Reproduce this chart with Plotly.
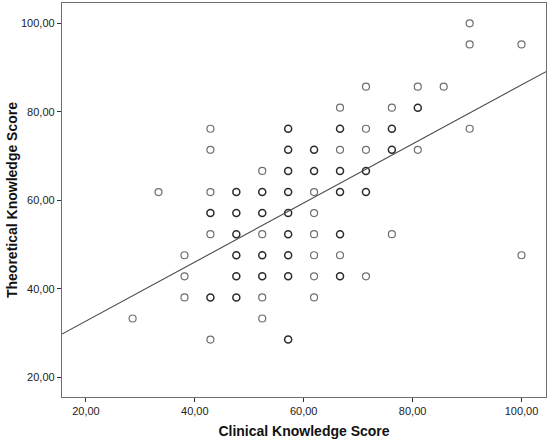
import plotly.graph_objects as go

# Scatter data: clinical score, theoretical score, number of overlapping cases
clinical = [28.57, 33.33,
            38.10, 38.10, 38.10,
            42.86, 42.86, 42.86, 42.86, 42.86, 42.86, 42.86,
            47.62, 47.62, 47.62, 47.62, 47.62, 47.62,
            52.38, 52.38, 52.38, 52.38, 52.38, 52.38, 52.38, 52.38,
            57.14, 57.14, 57.14, 57.14, 57.14, 57.14, 57.14, 57.14, 57.14,
            61.90, 61.90, 61.90, 61.90, 61.90, 61.90, 61.90, 61.90,
            66.67, 66.67, 66.67, 66.67, 66.67, 66.67, 66.67, 66.67,
            71.43, 71.43, 71.43, 71.43, 71.43, 71.43,
            76.19, 76.19, 76.19, 76.19,
            80.95, 80.95, 80.95,
            85.71,
            90.48, 90.48, 90.48,
            100.00, 100.00]
theoretical = [33.33, 61.90,
               47.62, 42.86, 38.10,
               76.19, 71.43, 61.90, 57.14, 52.38, 38.10, 28.57,
               61.90, 57.14, 52.38, 47.62, 42.86, 38.10,
               66.67, 61.90, 57.14, 52.38, 47.62, 42.86, 38.10, 33.33,
               76.19, 71.43, 66.67, 61.90, 57.14, 52.38, 47.62, 42.86, 28.57,
               71.43, 66.67, 61.90, 57.14, 52.38, 47.62, 42.86, 38.10,
               80.95, 76.19, 71.43, 66.67, 61.90, 52.38, 47.62, 42.86,
               85.71, 76.19, 71.43, 66.67, 61.90, 42.86,
               80.95, 76.19, 71.43, 52.38,
               85.71, 80.95, 71.43,
               85.71,
               100.00, 95.24, 76.19,
               95.24, 47.62]
counts = [1, 1,
          1, 1, 1,
          1, 1, 1, 2, 1, 2, 1,
          2, 2, 2, 2, 2, 2,
          1, 2, 2, 1, 2, 2, 1, 1,
          2, 2, 2, 2, 2, 2, 2, 2, 2,
          2, 2, 1, 1, 1, 1, 1, 1,
          1, 2, 1, 2, 2, 2, 1, 2,
          1, 1, 1, 2, 2, 1,
          1, 2, 2, 1,
          1, 2, 1,
          1,
          1, 1, 1,
          1, 1]

# Fit line
fit_intercept = 19.4
fit_slope = 0.667

x_range = [15.6, 104.5]
y_range = [15.6, 104.6]
tick_vals = [20, 40, 60, 80, 100]
tick_text = ["20,00", "40,00", "60,00", "80,00", "100,00"]

single_x = [c for c, n in zip(clinical, counts) if n == 1]
single_y = [t for t, n in zip(theoretical, counts) if n == 1]
multi_x = [c for c, n in zip(clinical, counts) if n > 1]
multi_y = [t for t, n in zip(theoretical, counts) if n > 1]

fig = go.Figure()
fig.add_trace(go.Scatter(
    x=single_x, y=single_y, mode="markers",
    marker=dict(symbol="circle-open", size=7, color="#6e6e6e", line=dict(width=1.2)),
    showlegend=False, hoverinfo="x+y"))
fig.add_trace(go.Scatter(
    x=multi_x, y=multi_y, mode="markers",
    marker=dict(symbol="circle-open", size=7, color="#2a2a2a", line=dict(width=1.5)),
    showlegend=False, hoverinfo="x+y"))
fig.add_trace(go.Scatter(
    x=x_range, y=[fit_intercept + fit_slope * v for v in x_range], mode="lines",
    line=dict(color="#4a4a4a", width=1.1), showlegend=False, hoverinfo="skip"))

axis_common = dict(
    showgrid=False, zeroline=False, showline=True, mirror=True,
    linecolor="#6f6f6f", linewidth=1.3, automargin=False,
    ticks="outside", ticklen=4, tickwidth=1, tickcolor="#333333",
    tickfont=dict(family="Liberation Sans, Arial", size=11, color="#222222"),
    tickvals=tick_vals, ticktext=tick_text,
)

fig.update_layout(
    width=550, height=441,
    margin=dict(l=62, r=4, t=3, b=44),
    paper_bgcolor="white", plot_bgcolor="white",
    xaxis=dict(range=x_range, **axis_common,
               title=dict(text="<b>Clinical Knowledge Score</b>", standoff=9,
                          font=dict(family="Liberation Sans, Arial", size=14, color="#111111"))),
    yaxis=dict(range=y_range, **axis_common,
               title=dict(text="<b>Theoretical Knowledge Score</b>", standoff=0,
                          font=dict(family="Liberation Sans, Arial", size=14, color="#111111"))),
)

fig.write_html("out.html", config={"displayModeBar": False},
               post_script="document.body.style.margin='0';document.body.style.overflow='hidden';")
